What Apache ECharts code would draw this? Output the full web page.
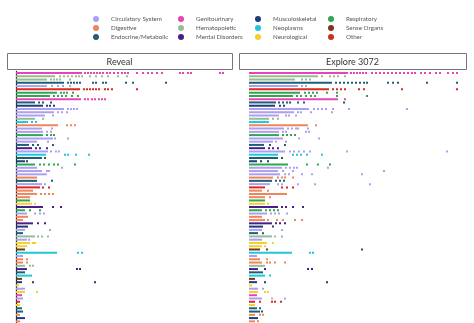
<!DOCTYPE html>
<html><head><meta charset="utf-8">
<script src="https://cdn.jsdelivr.net/npm/echarts@6/dist/echarts.min.js"></script>
<style>html,body{margin:0;padding:0;background:#fff}#c{width:474px;height:323px}</style>
</head><body><div id="c"></div>
<script>
const CATEGORIES = ['Circulatory System','Digestive','Endocrine/Metabolic','Genitourinary','Hematopoietic','Mental Disorders','Musculoskeletal','Neoplasms','Neurological','Respiratory','Sense Organs','Other'];
const CAT_COLORS = ['#ad9ff0','#f0845c','#1d5f73','#e843b8','#95bd95','#4a1d8c','#1d3c78','#1ec8dc','#f3d02a','#2fa751','#7b3814','#d62b1e'];
const PANEL_TITLES = ['Reveal','Explore 3072'];
const ROW_CATS = [3,4,4,2,0,11,9,9,3,2, 6,0,0,0,4,7,1,0,0,9, 0,0,2,5,0,7,2,6,9,0, 0,0,1,2,0,11,1,1,1,9, 8,5,9,0,1,1,5,6,0,2, 4,0,8,8,10,7,0,1,1,4, 5,2,7,10,6,8,0,8,3,0, 11,8,2,2,1,6,1];
const REVEAL_BARS = [66,39,31,48,31,64,41,34,65,19, 27,48,38,29,19,12,42,26,27,27, 37,21,13,16,32,30,26,9,19,21, 26,31,21,21,26,24,17,21,14,14, 16,27,9,11,12,7,17,12,9,7, 19,11,14,11,9,41,7,7,7,9, 11,9,16,6,6,3,9,9,6,7, 4,4,6,7,4,9,4];
const REVEAL_DOTS = [
 [69,72,75,78,81,84,87,91,94,98,102,106,109,112,121,127,132,136,141,146,164,167,172,175,204,207],
 [44,48,52,56,60,63,66,74,80,86,92,102,111],
 [35,38,41,44,54],
 [52,55,58,61,64,77,80,87,90,110,117,150],
 [36,42,47,54],
 [68,71,74,77,80,83,89,92,96,121],
 [45,48,51,57],
 [38,42,46,50,56,62],
 [69,72,76,79,83,86,89],
 [23,27,35],
 [31,34,38],[52,55,58,61],[42,46,51],[37],[27],[16,20],[51,55,59],[36],[31,35],[31,35,38],
 [39,52],[32],[17,22,37],[20,24,31],[35,40,43],[49,52,60,73],[29],[11],[24,28,33,38,42,59],[46],
 [31,33],[],[],[36],[29],[27,33],[],[25,29,33,37],[],[],
 [19],[37,45],[14,24],[19,24,28],[],[],[22,29],[],[34],[],
 [22,26,32],[13],[17,19],[],[],[62,66],[],[11],[11],[14,17],
 [61,64],[],[],[],[17,79],[],[],[21],[],[],
 [],[],[],[],[],[],[]
];
const EXPLORE_BARS = [99,69,46,83,49,80,51,44,89,27, 26,60,45,30,20,20,59,35,30,30, 34,24,15,16,36,29,29,8,39,33, 29,31,24,23,21,16,13,38,16,16, 16,29,13,18,13,16,23,14,13,9, 23,13,18,13,11,43,8,11,13,16, 9,14,16,6,8,3,9,9,8,13, 6,6,8,11,6,9,6];
const EXPLORE_DOTS = [
 [102,105,108,111,114,117,123,127,131,135,139,143,147,151,155,159,163,166,172,176,181,187,191,199,204,208],
 [73,81,85,89,96],
 [53,57,61],
 [87,91,95,99,103,107,111,115,118,139,144,149,178,208],
 [53,57],
 [84,88,92,96,110,115,153,208],
 [56,60,64,68,78,88],
 [48,52,57,62,66,88,118],
 [96],
 [30,34,38,41,49,55,95],
 [31,35],[65,69,73,77,84,100,158],[49,52,62,83],[37,40,47],[24,29],[],[67],[39,43,47,49,59],[34,37,57,60],[34,38,42,46],
 [50,70],[27,37],[21,36],[20,24,29],[41,45,50,55,61,98,198],[44,48,52,58,73],[33],[12,19],[58,69,81],[37,41,45,48,79],
 [34,44,135],[36,40,53,63,113],[29,33,36,44],[27,31,35],[29,33,49,66,121],[33,38,44],[19],[],[21],[],
 [19],[33,37,44,54],[17,21,25,29],[22,26,30,38],[],[19,28,34,46,53],[27,31,36],[24],[33],[14],
 [26,33],[],[24],[16],[18,113],[61,64],[],[18],[18,21,26,36],[],
 [16,59,63],[],[21],[],[16,78],[],[14],[16,19],[],[23,36],
 [11,23,26,32],[],[11],[13],[11,14],[],[9]
];

const rowNames = ROW_CATS.map((_, i) => 'row' + i);
function barData(vals){ return vals.map((v,i)=>({value:v, itemStyle:{color:CAT_COLORS[ROW_CATS[i]]}})); }
function dotData(dots){
  const out=[];
  dots.forEach((list,i)=>list.forEach(x=>out.push({value:[x,i], itemStyle:{color:CAT_COLORS[ROW_CATS[i]], opacity:1}})));
  return out;
}
const GRID_TOP = 71.4, GRID_H = 252;
const panels = [
  {left:7, width:225, min:-9, max:216, axis:true, bars:REVEAL_BARS, dots:REVEAL_DOTS},
  {left:239, width:227, min:-10, max:217, axis:false, bars:EXPLORE_BARS, dots:EXPLORE_DOTS}
];
const series = [];
panels.forEach((p,k)=>{
  series.push({type:'bar', xAxisIndex:k, yAxisIndex:k, barWidth:2, data:barData(p.bars), silent:true, animation:false});
  series.push({type:'scatter', xAxisIndex:k, yAxisIndex:k, symbol:'rect', symbolSize:[2,2], itemStyle:{opacity:1}, data:dotData(p.dots), silent:true, animation:false});
});
CATEGORIES.forEach((c,i)=>series.push({type:'scatter', name:c, xAxisIndex:0, yAxisIndex:0, data:[], itemStyle:{color:CAT_COLORS[i], opacity:1}}));

const legendCols = [88,173,250,323];
const legends = legendCols.map((x,j)=>({
  orient:'vertical', left:x, top:9.5, itemWidth:20, itemHeight:6, itemGap:0, icon:'circle', selectedMode:false,
  data:CATEGORIES.slice(j*3, j*3+3),
  itemStyle:{opacity:1},
  textStyle:{fontSize:6.2, lineHeight:9, color:'#555', fontFamily:'Lato'}
}));

const graphics = [];
panels.forEach((p,k)=>{
  graphics.push({type:'rect', shape:{x:p.left+0.5, y:53.5, width:p.width, height:16}, style:{fill:'#fff', stroke:'#777', lineWidth:1}});
  graphics.push({type:'text', x:p.left+p.width/2, y:62, style:{text:PANEL_TITLES[k], align:'center', verticalAlign:'middle', fontSize:9, fontFamily:'Lato', fill:'#333'}});
});

const chart = echarts.init(document.getElementById('c'));
chart.setOption({
  animation:false,
  backgroundColor:'#fff',
  legend:legends,
  grid:panels.map(p=>({left:p.left, top:GRID_TOP, width:p.width, height:GRID_H})),
  xAxis:panels.map((p,k)=>({type:'value', gridIndex:k, min:p.min, max:p.max, show:false})),
  yAxis:panels.map((p,k)=>({type:'category', gridIndex:k, data:rowNames, inverse:true,
    axisLine:{show:p.axis, lineStyle:{color:'#222', width:1.2}}, axisTick:{show:false}, axisLabel:{show:false}, splitLine:{show:false}})),
  graphic:graphics,
  series:series
});
</script></body></html>
